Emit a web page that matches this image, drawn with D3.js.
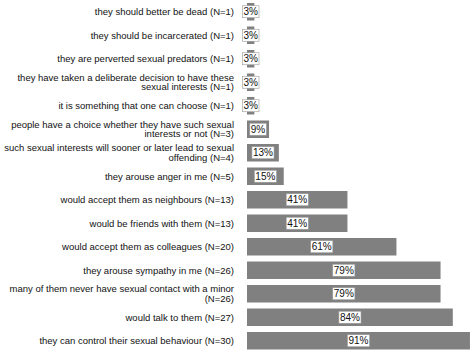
<!DOCTYPE html>
<html>
<head>
<meta charset="utf-8">
<script src="https://cdn.jsdelivr.net/npm/d3@7"></script>
<style>
  body { margin: 0; background: #fff; }
  svg { display: block; }
</style>
</head>
<body>
<div id="chart"></div>
<script>
const width = 474, height = 353;

// statements, top to bottom (each entry = lines of the label)
const statements = [
  ["they should better be dead (N=1)"],
  ["they should be incarcerated (N=1)"],
  ["they are perverted sexual predators (N=1)"],
  ["they have taken a deliberate decision to have these", "sexual interests (N=1)"],
  ["it is something that one can choose (N=1)"],
  ["people have a choice whether they have such sexual", "interests or not (N=3)"],
  ["such sexual interests will sooner or later lead to sexual", "offending (N=4)"],
  ["they arouse anger in me (N=5)"],
  ["would accept them as neighbours (N=13)"],
  ["would be friends with them (N=13)"],
  ["would accept them as colleagues (N=20)"],
  ["they arouse sympathy in me (N=26)"],
  ["many of them never have sexual contact with a minor", "(N=26)"],
  ["would talk to them (N=27)"],
  ["they can control their sexual behaviour (N=30)"]
];
const percents = [3, 3, 3, 3, 3, 9, 13, 15, 41, 41, 61, 79, 79, 84, 91];

const data = statements.map((lines, i) => ({ i, lines, value: percents[i] }));

const barLeft = 247;
const labelRight = 234;

const svg = d3.select("#chart")
  .append("svg")
  .attr("width", width)
  .attr("height", height);

const x = d3.scaleLinear()
  .domain([0, 100])
  .range([barLeft, barLeft + 245]);

const y = d3.scaleBand()
  .domain(data.map(d => d.i))
  .range([0, 352.5])
  .paddingInner(0.255)
  .paddingOuter(0.1275);

// bars
svg.selectAll("rect.bar")
  .data(data)
  .join("rect")
  .attr("class", "bar")
  .attr("x", x(0))
  .attr("y", d => y(d.i))
  .attr("width", d => x(d.value) - x(0))
  .attr("height", y.bandwidth())
  .attr("fill", "#808080");

// category labels
const labels = svg.append("g")
  .attr("font-family", "'Liberation Sans', Arial, sans-serif")
  .attr("font-size", "9.5px")
  .attr("fill", "#111")
  .attr("text-anchor", "end");

data.forEach(d => {
  const cy = y(d.i) + y.bandwidth() / 2;
  const lh = 9.5;
  const first = cy - (d.lines.length - 1) * lh / 2;
  const t = labels.append("text");
  d.lines.forEach((line, k) => {
    t.append("tspan")
      .attr("x", labelRight)
      .attr("y", first + k * lh)
      .attr("dy", "0.35em")
      .text(line);
  });
});

// value labels in white boxes
const vals = svg.append("g")
  .attr("font-family", "'Liberation Sans', Arial, sans-serif")
  .attr("font-size", "10px")
  .attr("fill", "#111");

data.forEach(d => {
  const cx = (x(0) + x(d.value)) / 2;
  const cy = y(d.i) + y.bandwidth() / 2;
  const g = vals.append("g");
  const txt = g.append("text")
    .attr("x", cx)
    .attr("y", cy)
    .attr("dy", "0.36em")
    .attr("text-anchor", "middle")
    .text(d.value + "%");
  const bb = txt.node().getBBox();
  g.insert("rect", "text")
    .attr("x", bb.x - 1)
    .attr("y", cy - 6)
    .attr("width", bb.width + 2)
    .attr("height", 12)
    .attr("fill", "#fff")
    .attr("stroke", "#9a9a9a")
    .attr("stroke-width", 0.6);
});
</script>
</body>
</html>
